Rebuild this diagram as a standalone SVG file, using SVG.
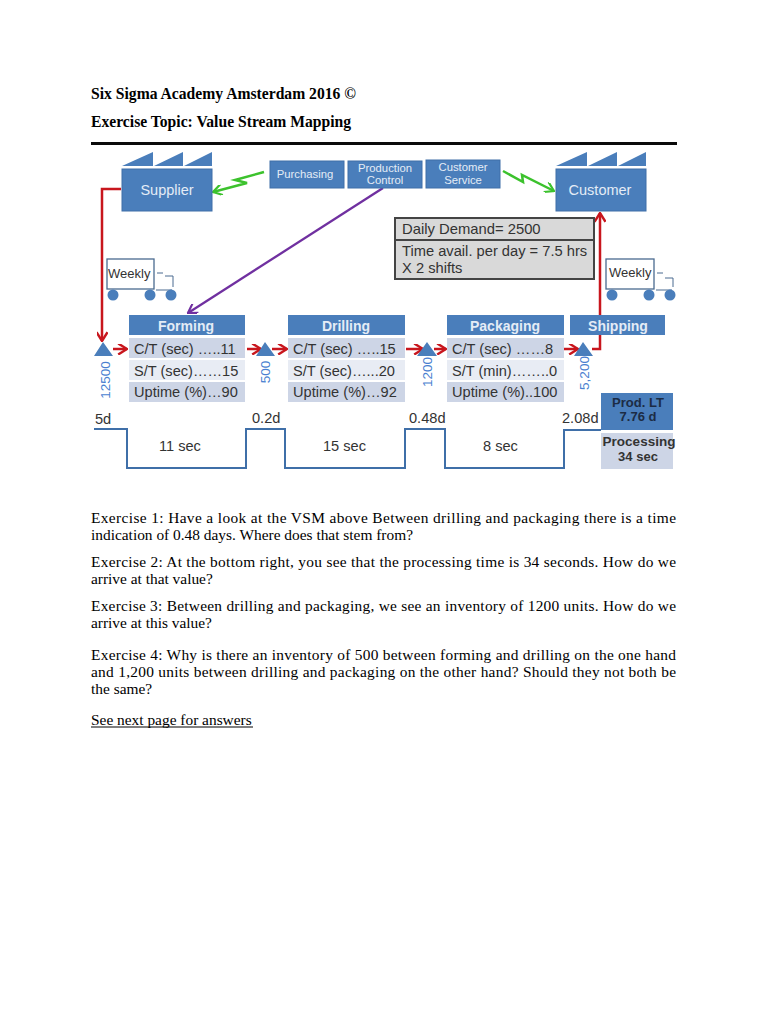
<svg xmlns="http://www.w3.org/2000/svg" width="768" height="1024" viewBox="0 0 768 1024">
<style>
.doc{font-family:"Liberation Serif","Times New Roman",serif;font-size:15.4px;fill:#000}
.b{font-weight:bold;font-size:15.65px}
.lab{font-family:"Liberation Sans",Arial,sans-serif;fill:#333}
.box{fill:#4a7ebb;stroke:#3f6fa8;stroke-width:1}
.w{font-family:"Liberation Sans",Arial,sans-serif;fill:#e4ecf6;text-anchor:middle}
.h{font-family:"Liberation Sans",Arial,sans-serif;fill:#e4ecf6;text-anchor:middle;font-weight:bold;font-size:14px}
.r1{fill:#cdd5e6}
.r2{fill:#e8ecf4}
.t{font-family:"Liberation Sans",Arial,sans-serif;font-size:14.6px;fill:#333}
.tri{fill:#4a7ebb}
.num{font-family:"Liberation Sans",Arial,sans-serif;font-size:13.5px;fill:#4a7fd0;text-anchor:middle}
.red{fill:none;stroke:#c8161d;stroke-width:2.5}
.green{fill:none;stroke:#3cc22d;stroke-width:2.5}
.wheel{fill:#4a7ebb}
.truck{fill:#fff;stroke:#4a6a90;stroke-width:1.3}
.cab{fill:none;stroke:#4a6a90;stroke-width:1}
</style>
<defs>
<marker id="ag" viewBox="0 0 10 10" refX="9" refY="5" markerWidth="11" markerHeight="11" orient="auto" markerUnits="userSpaceOnUse"><path d="M1 0L9 5L1 10" fill="none" stroke="#3cc22d" stroke-width="2"/></marker>
<marker id="ap" viewBox="0 0 10 10" refX="9" refY="5" markerWidth="11" markerHeight="11" orient="auto" markerUnits="userSpaceOnUse"><path d="M1 0L9 5L1 10" fill="none" stroke="#7030a0" stroke-width="2"/></marker>
<marker id="ars" viewBox="0 0 10 10" refX="9" refY="5" markerWidth="11" markerHeight="11" orient="auto" markerUnits="userSpaceOnUse"><path d="M1 0L9 5L1 10" fill="none" stroke="#c8161d" stroke-width="2.2"/></marker>
</defs>
<rect width="768" height="1024" fill="#fff"/>
<text class="doc b" x="91" y="99">Six Sigma Academy Amsterdam 2016 ©</text>
<text class="doc b" x="91" y="127">Exercise Topic: Value Stream Mapping</text>
<rect x="91" y="142" width="586" height="3" fill="#0a0a0a"/>

<g id="connectors">
<path class="red" d="M121 189H102V341" marker-end="url(#ars)"/>
<path class="red" d="M600 315V213" marker-end="url(#ars)"/>
<path class="red" d="M600 335V349H592"/>
<path class="red" d="M113 349H127" marker-end="url(#ars)"/>
<path class="red" d="M247 349H261" marker-end="url(#ars)"/>
<path class="red" d="M272 349H287" marker-end="url(#ars)"/>
<path class="red" d="M406 349H423" marker-end="url(#ars)"/>
<path class="red" d="M434 349H446" marker-end="url(#ars)"/>
<path class="red" d="M562 349H578" marker-end="url(#ars)"/>
<path class="green" d="M264 172L235 180L247 183L213 192" marker-end="url(#ag)"/>
<path class="green" d="M503 171L523 182L522 175L554 191" marker-end="url(#ag)"/>
<path d="M383 188L188 313" fill="none" stroke="#7030a0" stroke-width="2.3" marker-end="url(#ap)"/>
<path d="M94 429H127V468H246V429H285V468H405V429H445V468H564V430H601" fill="none" stroke="#3f6fa8" stroke-width="2"/>
</g>

<g id="supplier">
<path class="tri" d="M122 166L153 152V166ZM154 166L183 152V166ZM184 166L212 152V166Z"/>
<rect class="box" x="122" y="169" width="90" height="42"/>
<text class="w" x="167" y="195" font-size="14.5">Supplier</text>
</g>
<g id="purchasing">
<rect class="box" x="270" y="161" width="74" height="27"/>
<text class="w" x="305" y="178" font-size="11.3">Purchasing</text>
</g>
<g id="production-control">
<rect class="box" x="348" y="161" width="74" height="27"/>
<text class="w" x="385" y="172" font-size="11.3">Production</text>
<text class="w" x="385" y="184" font-size="11.3">Control</text>
</g>
<g id="customer-service">
<rect class="box" x="426" y="160" width="74" height="28"/>
<text class="w" x="463" y="171" font-size="11.3">Customer</text>
<text class="w" x="463" y="184" font-size="11.3">Service</text>
</g>
<g id="customer">
<path class="tri" d="M556 166L587 152V166ZM588 166L617 152V166ZM618 166L646 152V166Z"/>
<rect class="box" x="556" y="169" width="90" height="42"/>
<text class="w" x="600" y="195" font-size="14.5">Customer</text>
</g>
<g id="demand">
<rect x="395" y="218" width="199" height="61" fill="#d9d9d9" stroke="#444" stroke-width="2"/>
<path d="M395 240H594" stroke="#444" stroke-width="2"/>
<text class="lab" x="402" y="234" font-size="14.8">Daily Demand= 2500</text>
<text class="lab" x="402" y="256" font-size="14.7">Time avail. per day = 7.5 hrs</text>
<text class="lab" x="402" y="273" font-size="14.7">X 2 shifts</text>
</g>
<g id="truck-left">
<rect class="truck" x="107" y="259" width="47" height="30"/>
<path class="cab" d="M157 273H163M165 276H173V287M156 290H172"/>
<circle class="wheel" cx="113" cy="295" r="5.5"/><circle class="wheel" cx="150" cy="295" r="5.5"/><circle class="wheel" cx="171" cy="295" r="5.5"/>
<text class="lab" x="108" y="278" font-size="13">Weekly</text>
</g>
<g id="truck-right">
<rect class="truck" x="606" y="259" width="48" height="30"/>
<path class="cab" d="M657 273H663M665 278H673V287M656 290H672"/>
<circle class="wheel" cx="612" cy="295" r="5.5"/><circle class="wheel" cx="649" cy="295" r="5.5"/><circle class="wheel" cx="670" cy="295" r="5.5"/>
<text class="lab" x="609" y="277" font-size="13">Weekly</text>
</g>
<g id="forming">
<rect fill="#4a7ebb" x="129" y="315" width="116" height="20"/>
<text class="h" x="186" y="331">Forming</text>
<rect class="r1" x="129" y="338" width="116" height="20"/><rect class="r2" x="129" y="360" width="116" height="20"/><rect class="r1" x="129" y="382" width="116" height="20"/>
<text class="t" x="134" y="354">C/T (sec) …..11</text>
<text class="t" x="134" y="376">S/T (sec)……15</text>
<text class="t" x="134" y="397">Uptime (%)…90</text>
</g>
<g id="drilling">
<rect fill="#4a7ebb" x="288" y="315" width="117" height="20"/>
<text class="h" x="346" y="331">Drilling</text>
<rect class="r1" x="288" y="338" width="117" height="20"/><rect class="r2" x="288" y="360" width="117" height="20"/><rect class="r1" x="288" y="382" width="117" height="20"/>
<text class="t" x="293" y="354">C/T (sec) …..15</text>
<text class="t" x="293" y="376">S/T (sec)…...20</text>
<text class="t" x="293" y="397">Uptime (%)…92</text>
</g>
<g id="packaging">
<rect fill="#4a7ebb" x="447" y="315" width="117" height="20"/>
<text class="h" x="505" y="331">Packaging</text>
<rect class="r1" x="447" y="338" width="117" height="20"/><rect class="r2" x="447" y="360" width="117" height="20"/><rect class="r1" x="447" y="382" width="117" height="20"/>
<text class="t" x="452" y="354">C/T (sec) ……8</text>
<text class="t" x="452" y="376">S/T (min)……..0</text>
<text class="t" x="452" y="397">Uptime (%)..100</text>
</g>
<g id="shipping">
<rect fill="#4a7ebb" x="570" y="315" width="95" height="20"/>
<text class="h" x="618" y="331">Shipping</text>
</g>
<g id="inventory">
<path class="tri" d="M103 342L113 356H94ZM265 342L275 356H256ZM427 342L437 356H417ZM583 342L593 356H574Z"/>
<text class="num" transform="translate(110 380) rotate(-90)">12500</text>
<text class="num" transform="translate(270 372) rotate(-90)">500</text>
<text class="num" transform="translate(432 372) rotate(-90)">1200</text>
<text class="num" transform="translate(589 373) rotate(-90)">5,200</text>
</g>
<g id="timeline">
<text class="t" x="95" y="424">5d</text>
<text class="t" x="252" y="423">0.2d</text>
<text class="t" x="409" y="423">0.48d</text>
<text class="t" x="562" y="423">2.08d</text>
<text class="t" x="159" y="451">11 sec</text>
<text class="t" x="323" y="451">15 sec</text>
<text class="t" x="483" y="451">8 sec</text>
</g>
<g id="prod-lt">
<rect fill="#4a7ebb" x="601" y="393" width="72" height="37"/>
<text class="lab" x="638" y="407" font-size="13" font-weight="bold" text-anchor="middle" style="fill:#1c2c44">Prod. LT</text>
<text class="lab" x="638" y="421" font-size="13" font-weight="bold" text-anchor="middle" style="fill:#1c2c44">7.76 d</text>
</g>
<g id="processing">
<rect class="r1" x="601" y="433" width="72" height="36"/>
<text class="lab" x="639" y="446" font-size="13.5" font-weight="bold" text-anchor="middle">Processing</text>
<text class="lab" x="638" y="461" font-size="13" font-weight="bold" text-anchor="middle">34 sec</text>
</g>

<text class="doc" x="91" y="523" textLength="585">Exercise 1: Have a look at the VSM above Between drilling and packaging there is a time</text>
<text class="doc" x="91" y="540">indication of 0.48 days. Where does that stem from?</text>
<text class="doc" x="91" y="567" textLength="585">Exercise 2: At the bottom right, you see that the processing time is 34 seconds. How do we</text>
<text class="doc" x="91" y="584">arrive at that value?</text>
<text class="doc" x="91" y="611" textLength="585">Exercise 3: Between drilling and packaging, we see an inventory of 1200 units. How do we</text>
<text class="doc" x="91" y="628">arrive at this value?</text>
<text class="doc" x="91" y="660" textLength="585">Exercise 4: Why is there an inventory of 500 between forming and drilling on the one hand</text>
<text class="doc" x="91" y="677" textLength="585">and 1,200 units between drilling and packaging on the other hand? Should they not both be</text>
<text class="doc" x="91" y="694">the same?</text>
<text class="doc" x="91" y="725">See next page for answers</text>
<path d="M91 727H253" stroke="#000" stroke-width="1"/>
</svg>
